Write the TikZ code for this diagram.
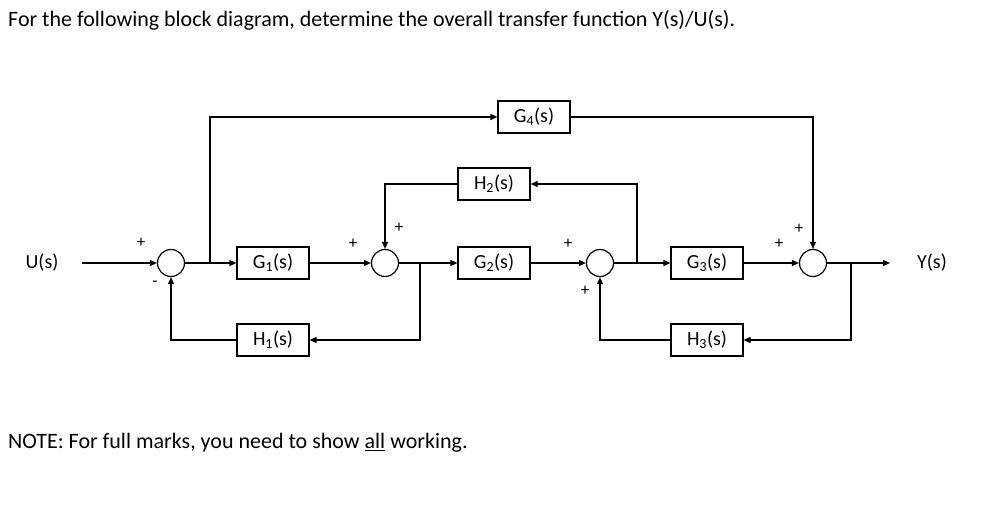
\documentclass[tikz,border=0pt]{standalone}
\usepackage{fontspec}
\setmainfont{Carlito}
\usetikzlibrary{arrows.meta}
\begin{document}
\begin{tikzpicture}[x=1pt,y=-1pt,
  blk/.style={draw,line width=1.2pt,minimum width=72pt,minimum height=32pt,inner sep=0pt,font=\fontsize{20}{22}\selectfont},
  sumj/.style={draw,line width=1.2pt,circle,minimum size=27pt,inner sep=0pt},
  sgn/.style={font=\fontsize{17}{17}\selectfont,inner sep=0pt},
  lbl/.style={font=\fontsize{20}{22}\selectfont,inner sep=0pt},
  arr/.style={line width=1.2pt,-{Triangle[length=7pt,width=6pt]}}]
\useasboundingbox (0,0) rectangle (984,505);
\node[anchor=west,font=\fontsize{22}{26}\selectfont,inner sep=0pt] (title) at (8,20) {For the following block diagram, determine the overall transfer function Y(s)/U(s).};
\node[anchor=west,font=\fontsize{22}{26}\selectfont,inner sep=0pt] (note) at (8,443) {NOTE: For full marks, you need to show \underline{all} working.};
\node[lbl] (u) at (42,263) {U(s)};
\node[lbl] (y) at (932,263) {Y(s)};
\node[sumj] (s1) at (171,263) {};
\node[sumj] (s2) at (385,263) {};
\node[sumj] (s3) at (600,263) {};
\node[sumj] (s4) at (813,263) {};
\node[blk] (g1) at (273,263) {G\textsubscript{1}(s)};
\node[blk] (g2) at (494,263) {G\textsubscript{2}(s)};
\node[blk] (g3) at (707,263) {G\textsubscript{3}(s)};
\node[blk] (h1) at (273,340) {H\textsubscript{1}(s)};
\node[blk] (h3) at (707,340) {H\textsubscript{3}(s)};
\node[blk] (h2) at (494,184) {H\textsubscript{2}(s)};
\node[blk] (g4) at (534,117) {G\textsubscript{4}(s)};
\coordinate (ustart) at (82,263);
\coordinate (yend) at (890,263);
\coordinate (t1) at (210,263);
\coordinate (t2) at (420,263);
\coordinate (t3) at (637,263);
\coordinate (t4) at (851,263);
\draw[arr] (ustart) -- (s1.west);
\draw[arr] (s1.east) -- (g1.west);
\draw[arr] (g1.east) -- (s2.west);
\draw[arr] (s2.east) -- (g2.west);
\draw[arr] (g2.east) -- (s3.west);
\draw[arr] (s3.east) -- (g3.west);
\draw[arr] (g3.east) -- (s4.west);
\draw[arr] (s4.east) -- (yend);
\draw[arr] (t1) |- (g4.west);
\draw[arr] (g4.east) -| (s4.north);
\draw[arr] (t2) |- (h1.east);
\draw[arr] (h1.west) -| (s1.south);
\draw[arr] (t3) |- (h2.east);
\draw[arr] (h2.west) -| (s2.north);
\draw[arr] (t4) |- (h3.east);
\draw[arr] (h3.west) -| (s3.south);
\node[sgn] (p1) at (141,243) {+};
\node[sgn] (m1) at (155,284) {-};
\node[sgn] (p2) at (353,244) {+};
\node[sgn] (p2b) at (399,228) {+};
\node[sgn] (p3) at (568,244) {+};
\node[sgn] (p3b) at (585,291) {+};
\node[sgn] (p4) at (779,244) {+};
\node[sgn] (p4b) at (799,229) {+};
\end{tikzpicture}
\end{document}
